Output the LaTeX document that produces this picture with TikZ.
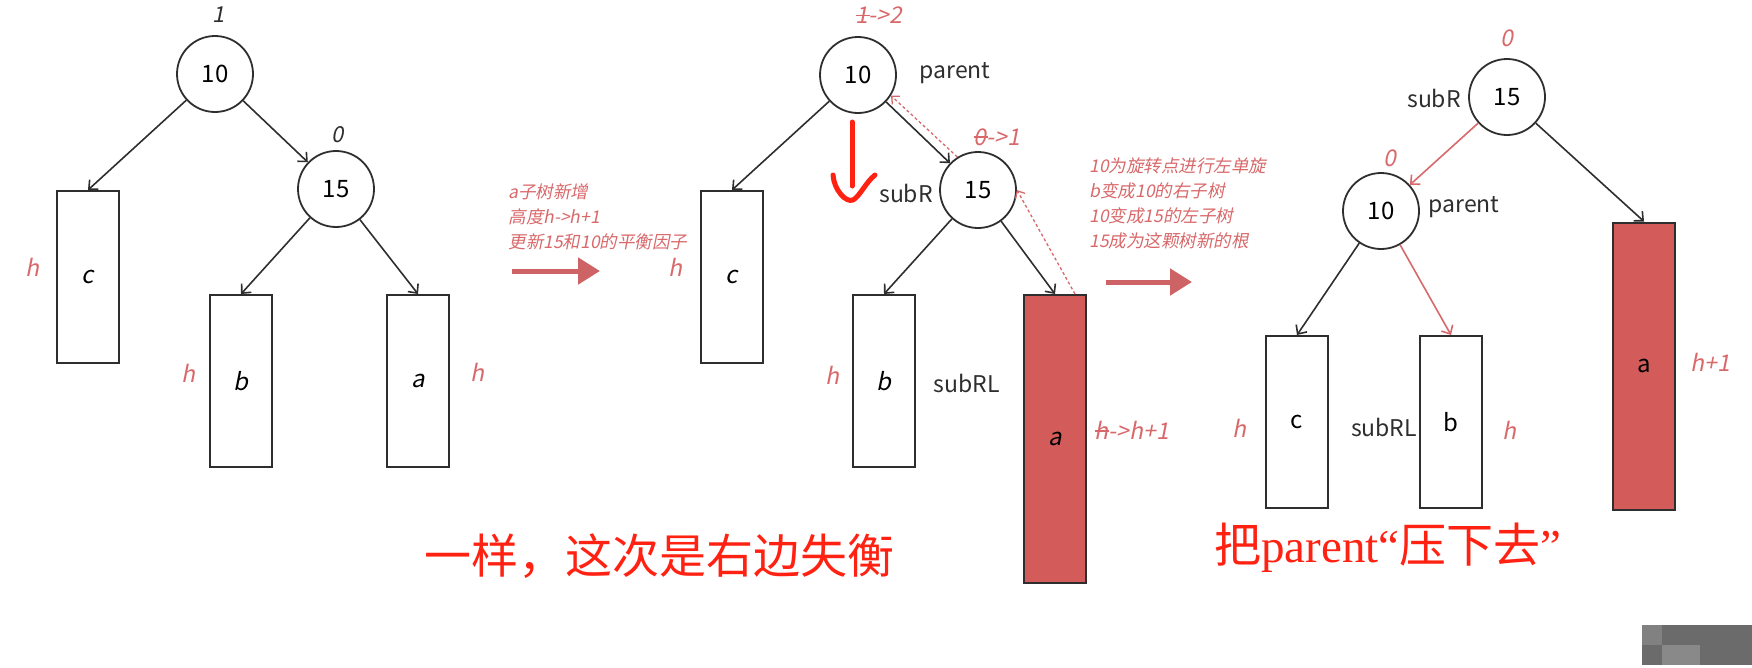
\documentclass[tikz,border=0pt]{standalone}
\usepackage{fontspec}
\usetikzlibrary{arrows.meta}
\setmainfont{Noto Sans CJK SC}
\newfontfamily\cjkit{Noto Sans CJK SC}[FakeSlant=0.2]
\newfontfamily\tnr{Liberation Serif}
\definecolor{Ink}{HTML}{2E2E2E}
\definecolor{Note}{HTML}{D8686A}
\definecolor{Fill}{HTML}{D35C5A}
\definecolor{Pen}{HTML}{FF2212}
\definecolor{Blur}{HTML}{6B6B6B}
\newcommand\crossout[1]{\makebox[0pt][l]{\rule[.3em]{.6em}{.08em}}#1}

\begin{document}
\begin{tikzpicture}[x=1pt,y=-1pt,
  key/.style={draw=Ink,line width=1.8pt,circle,minimum size=76pt,inner sep=0pt,font=\fontsize{24}{24}\selectfont},
  sub/.style={draw=Ink,line width=2pt,minimum width=62pt,minimum height=172pt,inner sep=0pt,font=\cjkit\fontsize{24}{24}\selectfont},
  edge/.style={Ink,line width=1.6pt,-{Straight Barb[length=7pt,width=13pt]}},
  note/.style={Note,font=\cjkit\fontsize{23}{23}\selectfont},
  tag/.style={Ink,font=\fontsize{23}{23}\selectfont},
  say/.style={Note,align=left,anchor=west,font=\cjkit\fontsize{17.5}{25}\selectfont},
  push/.style={Note!95!black,line width=5pt,-{Triangle[length=22pt,width=26pt]}},
  back/.style={Note,line width=1.3pt,dash pattern=on 3pt off 2.5pt,-{Straight Barb[length=6pt,width=11pt]}},
  shout/.style={Pen,font=\fontsize{47}{47}\selectfont}]
\useasboundingbox (0,0) rectangle (1752,667);
% before: 10 with right child 15
\node[key] (l10) at (215,74) {10};
\node[key] (l15) at (336,189) {15};
\node[sub] (lc) at (88,277) {c};
\node[sub] (lb) at (241,381) {b};
\node[sub] (la) at (418,381) {a};
\node[font=\cjkit\fontsize{22}{22}\selectfont,Ink] (lbf1) at (219,15) {1};
\node[font=\cjkit\fontsize{22}{22}\selectfont,Ink] (lbf2) at (338,135) {0};
% after insertion under a
\node[key] (m10) at (858,75) {10};
\node[key] (m15) at (978,190) {15};
\node[sub] (mc) at (732,277) {c};
\node[sub] (mb) at (884,381) {b};
\node[sub,fill=Fill,minimum height=288pt] (ma) at (1055,439) {a};
\node[tag] (mparent) at (955,73) {parent};
\node[tag] (msubR) at (906,193) {subR};
\node[tag] (msubRL) at (967,383) {subRL};
\node[note] (mbf1) at (879,15) {\crossout{1}->2};
\node[note] (mbf2) at (997,137) {\crossout{0}->1};
\node[note] (mgrow) at (1132,430) {\crossout{h}->h+1};
% after left rotation
\node[key] (r15) at (1507,97) {15};
\node[key] (r10) at (1381,211) {10};
\node[sub,font=\fontsize{24}{24}\selectfont] (rc) at (1297,422) {c};
\node[sub,font=\fontsize{24}{24}\selectfont] (rb) at (1451,422) {b};
\node[sub,font=\fontsize{24}{24}\selectfont,fill=Fill,minimum height=287pt] (ra) at (1644,366) {a};
\node[tag] (rparent) at (1464,207) {parent};
\node[tag] (rsubR) at (1434,98) {subR};
\node[tag] (rsubRL) at (1384,427) {subRL};
\node[note] (rbf1) at (1507,38) {0};
\node[note] (rbf2) at (1390,158) {0};
\node[note] (rgrow) at (1710,362) {h+1};
\foreach \x/\y [count=\i] in {32/267,188/373,477/372,675/267,832/375,1239/428,1509/430}
  \node[note] (h\i) at (\x,\y) {h};
\foreach \a/\b in {l10/lc.north,l10/l15,l15/lb.north,l15/la.north,m10/mc.north,m10/m15,m15/mb.north,m15/ma.north,r15/ra.north,r10/rc.north}
  \draw[edge] (\a) -- (\b);
\foreach \a/\b in {r15/r10,r10/rb.north}
  \draw[edge,Note] (\a) -- (\b);
\draw[back] ([xshift=-12pt]ma.north east) -- (m15.east);
\draw[back] (m15.122) -- (m10.-32);
% notes and big arrows
\node[say] (say1) at (505,217) {a子树新增\\高度h->h+1\\更新15和10的平衡因子};
\node[say] (say2) at (1086,203) {10为旋转点进行左单旋\\b变成10的右子树\\10变成15的左子树\\15成为这颗树新的根};
\coordinate (g1) at (512,271); \coordinate (g2) at (600,271);
\coordinate (g3) at (1106,282); \coordinate (g4) at (1192,282);
\draw[push] (g1) -- (g2);
\draw[push] (g3) -- (g4);
% hand drawn arrow
\draw[Pen,line width=5pt,line cap=round] (852,122) -- (852,186);
\draw[Pen,line width=5pt,line cap=round,line join=round] (833,175) .. controls (834,190) and (846,203) .. (853,200) .. controls (860,196) and (866,182) .. (875,175);
\node[shout] (moral) at (659,556) {一样，这次是右边失衡};
\node[shout] (press) at (1388,548) {把{\tnr parent“}压下去{\tnr ”}};
% watermark blur
\fill[Blur] (1642,625) rectangle (1752,665);
\fill[Blur!85!white] (1642,625) rectangle (1662,645);
\fill[Blur!80!white] (1662,645) rectangle (1700,665);
\end{tikzpicture}
\end{document}
